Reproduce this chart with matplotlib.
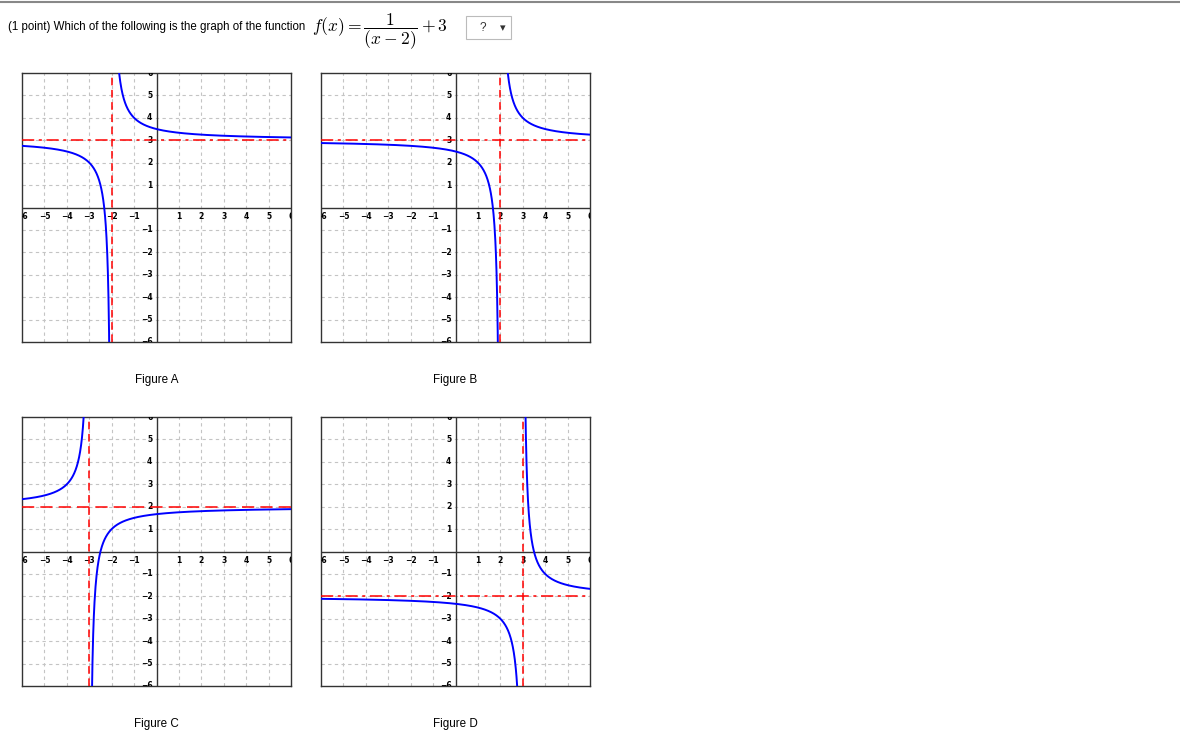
import numpy as np
import matplotlib.pyplot as plt
from matplotlib.patches import Rectangle

plt.rcParams['font.family'] = ['Liberation Sans', 'DejaVu Sans']
plt.rcParams['mathtext.fontset'] = 'cm'

# four candidate graphs: y = sign / (x - h) + k
names = ["Figure A", "Figure B", "Figure C", "Figure D"]
signs = [1, 1, -1, 1]
h_vals = [-2, 2, -3, 3]
k_vals = [3, 3, 2, -2]
h_styles = ["dashdot", "dashdot", "dashed", "dashdot"]
ticks = [-6, -5, -4, -3, -2, -1, 1, 2, 3, 4, 5, 6]

W, H = 1180, 736
fig = plt.figure(figsize=(W / 100, H / 100), dpi=100)

# top rule and question text
fig.add_artist(plt.Line2D([0, 1], [1 - 1.5 / H, 1 - 1.5 / H], color="#888888", lw=1.5))
fig.text(8 / W, 1 - 27 / H, "(1 point) Which of the following is the graph of the function",
         fontsize=8.3, va="center", ha="left")
fig.text(312 / W, 1 - 32 / H, r"$f(x)=\dfrac{1}{(x-2)}+3$",
         fontsize=12.6, va="center", ha="left")
fig.add_artist(Rectangle((466 / W, 1 - 39 / H), 45 / W, 23 / H, transform=fig.transFigure,
                         fill=False, edgecolor="#bbbbbb", lw=0.8))
fig.text(483 / W, 1 - 28 / H, "?", fontsize=8.5, ha="center", va="center", color="#333333")
fig.text(503 / W, 1 - 28 / H, "\u25be", fontsize=8, ha="center", va="center",
         color="#333333", family=["DejaVu Sans"])

boxes = [(22, 73), (321, 73), (22, 417), (321, 417)]
size = 269

for i in range(4):
    x0, y0 = boxes[i]
    ax = fig.add_axes([x0 / W, 1 - (y0 + size) / H, size / W, size / H])
    ax.set_xlim(-6, 6)
    ax.set_ylim(-6, 6)
    ax.set_xticks([])
    ax.set_yticks([])
    for s in ax.spines.values():
        s.set_color("#333333")
        s.set_linewidth(1)

    for t in range(-5, 6):
        if t == 0:
            continue
        ax.axvline(t, color="#c4c4c4", lw=0.8, ls=(0, (3, 3)), zorder=1)
        ax.axhline(t, color="#c4c4c4", lw=0.8, ls=(0, (3, 3)), zorder=1)
    ax.axvline(0, color="#333333", lw=1, zorder=2)
    ax.axhline(0, color="#333333", lw=1, zorder=2)

    for t in ticks:
        ax.annotate(str(t).replace("-", "\u2212"), (t, 0), xytext=(0, -3), textcoords="offset points",
                    ha="center", va="top", fontsize=5.5, fontweight="bold", annotation_clip=False,
                    clip_on=True, family=["DejaVu Sans"])
        ax.annotate(str(t).replace("-", "\u2212"), (0, t), xytext=(-3, 0), textcoords="offset points",
                    ha="right", va="center", fontsize=5.5, fontweight="bold", annotation_clip=False,
                    clip_on=True, family=["DejaVu Sans"])

    h, k, a = h_vals[i], k_vals[i], signs[i]
    ax.axvline(h, color="red", lw=1.1, ls=(0, (5, 3)), zorder=3)
    hs = (0, (8, 3, 2, 3)) if h_styles[i] == "dashdot" else (0, (8, 4))
    ax.axhline(k, color="red", lw=1.1, ls=hs, zorder=3)

    xl = np.linspace(-6, h - 0.01, 600)
    xr = np.linspace(h + 0.01, 6, 600)
    ax.plot(xl, a / (xl - h) + k, color="#0000ff", lw=1.4, zorder=4)
    ax.plot(xr, a / (xr - h) + k, color="#0000ff", lw=1.4, zorder=4)

    fig.text((x0 + size / 2) / W, 1 - (y0 + size + 38) / H, names[i],
             fontsize=8.4, ha="center", va="center")

fig.savefig("out.png", dpi=100)
